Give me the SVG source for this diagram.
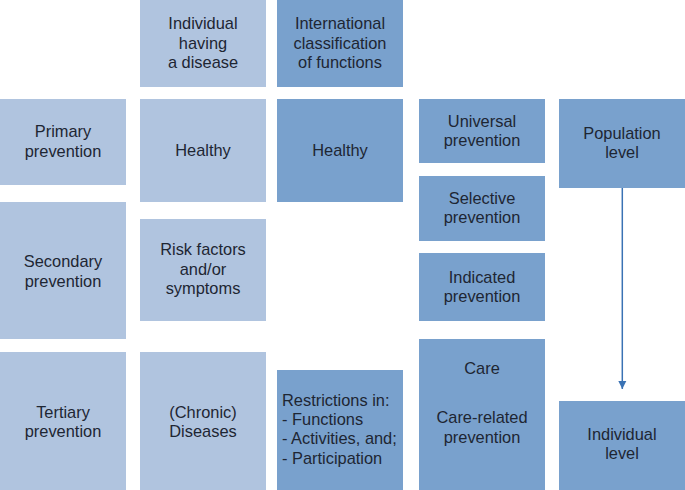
<svg xmlns="http://www.w3.org/2000/svg" width="685" height="490" viewBox="0 0 685 490">
<style>
.l{fill:#b0c4df}
.d{fill:#79a1cd}
text{font-family:"Liberation Sans",Arial,sans-serif;font-size:16.4px;fill:#1e2633;text-anchor:middle}
.s{text-anchor:start}
</style>
<defs>
<marker id="ah" viewBox="0 0 8 14" refX="8" refY="7" markerWidth="8" markerHeight="14" markerUnits="userSpaceOnUse" orient="auto">
<path d="M0,3 L8,7 L0,11 Z" fill="#3a72b4"/>
</marker>
</defs>
<rect width="685" height="490" fill="#fff"/>
<g id="individual-having-disease"><rect class="l" x="140" y="0" width="126" height="87"/><text x="203" y="29">Individual</text><text x="203" y="49">having</text><text x="203" y="68">a disease</text></g>
<g id="icf"><rect class="d" x="277" y="0" width="126" height="87"/><text x="340" y="29">International</text><text x="340" y="49">classification</text><text x="340" y="68">of functions</text></g>
<g id="primary"><rect class="l" x="0" y="99" width="126" height="86"/><text x="63" y="137">Primary</text><text x="63" y="157">prevention</text></g>
<g id="healthy1"><rect class="l" x="140" y="99" width="126" height="103"/><text x="203" y="156">Healthy</text></g>
<g id="healthy2"><rect class="d" x="277" y="99" width="126" height="103"/><text x="340" y="156">Healthy</text></g>
<g id="universal"><rect class="d" x="419" y="99" width="126" height="64"/><text x="482" y="127">Universal</text><text x="482" y="146">prevention</text></g>
<g id="population"><rect class="d" x="559" y="99" width="126" height="89"/><text x="622" y="139">Population</text><text x="622" y="158">level</text></g>
<g id="selective"><rect class="d" x="419" y="176" width="126" height="65"/><text x="482" y="204">Selective</text><text x="482" y="223">prevention</text></g>
<g id="secondary"><rect class="l" x="0" y="202" width="126" height="137"/><text x="63" y="267">Secondary</text><text x="63" y="287">prevention</text></g>
<g id="risk"><rect class="l" x="140" y="219" width="126" height="102"/><text x="203" y="255">Risk factors</text><text x="203" y="275">and/or</text><text x="203" y="294">symptoms</text></g>
<g id="indicated"><rect class="d" x="419" y="253" width="126" height="68"/><text x="482" y="283">Indicated</text><text x="482" y="302">prevention</text></g>
<g id="care"><rect class="d" x="419" y="339" width="126" height="151"/><text x="482" y="374">Care</text><text x="482" y="423">Care-related</text><text x="482" y="443">prevention</text></g>
<g id="tertiary"><rect class="l" x="0" y="352" width="126" height="138"/><text x="63" y="418">Tertiary</text><text x="63" y="437">prevention</text></g>
<g id="chronic"><rect class="l" x="140" y="352" width="126" height="138"/><text x="203" y="418">(Chronic)</text><text x="203" y="437">Diseases</text></g>
<g id="restrictions"><rect class="d" x="277" y="370" width="126" height="120"/><text class="s" x="282" y="405.5">Restrictions in:</text><text class="s" x="282" y="424.5">- Functions</text><text class="s" x="282" y="444">- Activities, and;</text><text class="s" x="282" y="463.5">- Participation</text></g>
<g id="individual-level"><rect class="d" x="559" y="401" width="126" height="89"/><text x="622" y="440">Individual</text><text x="622" y="459">level</text></g>
<g id="connectors"><line x1="622.3" y1="188" x2="622.3" y2="389" stroke="#3a72b4" stroke-width="1.5" marker-end="url(#ah)"/></g>
</svg>
